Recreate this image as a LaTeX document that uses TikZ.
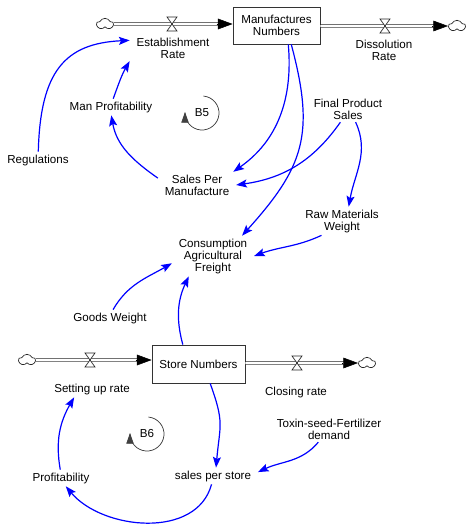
\documentclass[tikz,border=0pt]{standalone}
\usepackage{fontspec}
\setmainfont{Liberation Sans}
\usetikzlibrary{arrows.meta,shapes.symbols}
\tikzset{
  valve/.pic={\draw[line width=0.5pt,draw=black!85,fill=white] (-5,-7) -- (5,-7) -- (0,0) -- cycle (-5,7) -- (5,7) -- (0,0) -- cycle;},
}
\begin{document}
\begin{tikzpicture}[x=0.75pt,y=-0.75pt,
  every node/.style={font=\fontsize{8.7}{9}\selectfont},
  lbl/.style={align=center, inner xsep=5pt, inner ysep=2pt},
  stock/.style={draw=black!80, line width=0.6pt, align=center, inner sep=0pt},
  src/.style={cloud, cloud puffs=5, cloud puff arc=130, aspect=1.5, draw=black!85, line width=0.5pt, inner sep=0pt, minimum width=12.5pt, minimum height=8.5pt},
  pipe/.style={draw=black!85, line width=0.55pt, double=white, double distance=1.5pt},
  pipehead/.style={draw=black, line width=0.4pt, -{Triangle[length=11pt,width=8pt]}},
  link/.style={draw=blue, line width=0.9pt, -{Stealth[length=8pt,width=6pt,inset=1.5pt]}},
  loopar/.style={draw=black!75, line width=0.55pt, -{Triangle[length=8pt,width=5.5pt]}},
]
\fill[white] (0,0) rectangle (474,532);
\useasboundingbox (0,0) rectangle (474,532);

% stocks and clouds
\node[stock, minimum width=65.25pt, minimum height=27.75pt] (mn) at (276.5,25.5) {Manufactures\\Numbers};
\node[stock, minimum width=69.75pt, minimum height=28.5pt] (sn) at (198.5,364) {Store Numbers};
\node[src] (lc1) at (105,24) {};
\node[src] (rc1) at (457,26) {};
\node[src] (lc2) at (27,360) {};
\node[src] (rc2) at (367,363) {};

% pipes
\coordinate (p1) at (mn.west |- lc1);
\coordinate (p2) at (mn.east |- rc1);
\coordinate (p3) at (sn.west |- lc2);
\coordinate (p4) at (sn.east |- rc2);
\draw[pipe, shorten >=9pt] (lc1.east) -- (p1);
\draw[pipehead] ([xshift=-12pt]p1) -- (p1);
\draw[pipe, shorten >=9pt] (p2) -- (rc1.west);
\draw[pipehead] ([xshift=-12pt]rc1.west) -- (rc1.west);
\draw[pipe, shorten >=9pt] (lc2.east) -- (p3);
\draw[pipehead] ([xshift=-12pt]p3) -- (p3);
\draw[pipe, shorten >=9pt] (p4) -- (rc2.west);
\draw[pipehead] ([xshift=-12pt]rc2.west) -- (rc2.west);
\pic at (172,24) {valve};
\pic at (385,26) {valve};
\pic at (90,360) {valve};
\pic at (297,363) {valve};

% variables
\node[lbl] (er) at (173,48) {Establishment\\Rate};
\node[lbl] (dr) at (384,50) {Dissolution\\Rate};
\node[lbl] (mp) at (111,107) {Man Profitability};
\node[lbl] (reg) at (38,160) {Regulations};
\node[lbl] (spm) at (197,185) {Sales Per\\Manufacture};
\node[lbl] (fps) at (348,109) {Final Product\\Sales};
\node[lbl] (rmw) at (342,221) {Raw Materials\\Weight};
\node[lbl] (caf) at (213,256) {Consumption\\Agricultural\\Freight};
\node[lbl] (gw) at (110,318) {Goods Weight};
\node[lbl] (sur) at (92,389) {Setting up rate};
\node[lbl] (cr) at (296,392) {Closing rate};
\node[lbl] (td) at (329,429) {Toxin-seed-Fertilizer\\demand};
\node[lbl] (sps) at (213,476) {sales per store};
\node[lbl] (pr) at (61,478) {Profitability};

% loops
\node (b5) at (202,113) {B5};
\draw[loopar] ([shift={(85:12.75pt)}]b5.center) arc[start angle=85, end angle=-180, radius=12.75pt] -- ++(0,-1);
\node (b6) at (147,434) {B6};
\draw[loopar] ([shift={(85:12.75pt)}]b6.center) arc[start angle=85, end angle=-180, radius=12.75pt] -- ++(0,-1);

% links
\draw[link] (reg.88) .. controls +(2,-80) and +(-65,3) .. (er.170);
\draw[link] (mp.75) to[out=70,in=240] (er.south west);
\draw[link] (spm.170) to[out=145,in=-80] (mp.-88);
\draw[link] (mn.-58) to[out=-85,in=35] (spm.20);
\draw[link] (mn.-52) to[out=-75,in=48,looseness=1.2] (caf.35);
\draw[link] (fps.-120) to[out=-125,in=8] (spm.east);
\draw[link] (fps.-60) to[out=-65,in=80] (rmw.65);
\draw[link] (rmw.-145) to[out=-155,in=20] (caf.east);
\draw[link] (gw.70) to[out=60,in=210] (caf.190);
\draw[link] (sn.129) to[out=105,in=245] (caf.-140);
\draw[link] (sn.-59) to[out=-70,in=85,looseness=1.3] (sps.70);
\draw[link] (td.-129) to[out=-130,in=25] (sps.5);
\draw[link] (sps.-100) to[out=-105,in=-50] (pr.-60);
\draw[link] (pr.95) to[out=100,in=-120] (sur.-155);
\end{tikzpicture}
\end{document}
